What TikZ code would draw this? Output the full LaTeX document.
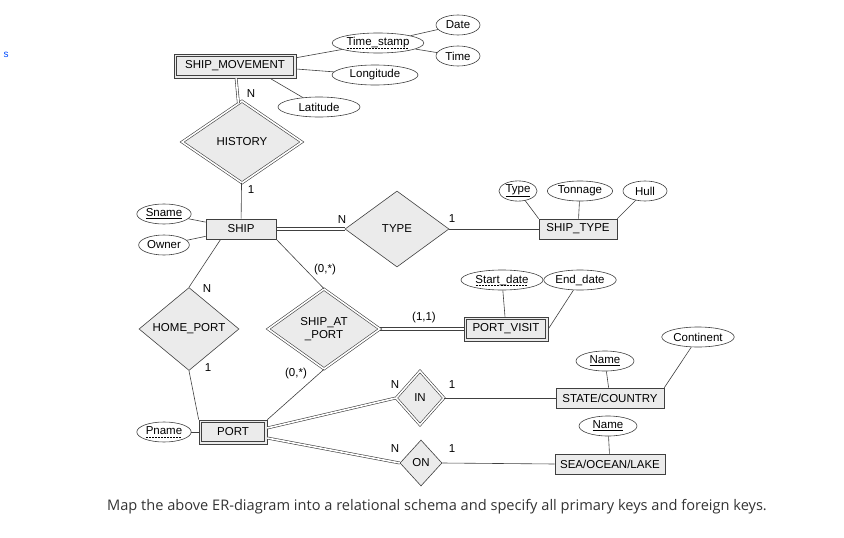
\documentclass[tikz,border=0pt]{standalone}
\usepackage{fontspec}
\setmainfont{Liberation Sans}
\newfontfamily\capfont{Open Sans}
\usetikzlibrary{shapes.geometric}
\newsavebox\dulbox
\newcommand\dul[1]{\sbox\dulbox{#1}\rlap{\usebox\dulbox}\raisebox{-2pt}{\hbox to \wd\dulbox{\xleaders\hbox{\rule{2pt}{0.4pt}\hspace{1pt}}\hfill}}}
\tikzset{
    normal/.style={draw=black!75, semithick},
    ent/.style={style=normal, fill=black!8, minimum height=20pt, inner sep=2pt, font=\fontsize{11.5}{13}\selectfont},
    went/.style={style=ent, minimum height=24pt, path picture={\draw[black!75, semithick] ([shift={(2.4pt,-2.4pt)}]path picture bounding box.north west) rectangle ([shift={(-2.4pt,2.4pt)}]path picture bounding box.south east);}},
    rel/.style={style=normal, diamond, fill=black!8, inner sep=0pt, font=\fontsize{11.5}{13}\selectfont, align=center},
    wrel/.style={style=rel, double, double distance=1.6pt},
    attr/.style={style=normal, ellipse, fill=white, minimum height=20pt, inner sep=1pt, font=\fontsize{11.5}{13}\selectfont},
    e/.style={style=normal},
    te/.style={draw=black!75, double, double distance=1.6pt, semithick}, % total participation
    card/.style={font=\fontsize{11.5}{13}\selectfont}
}
\begin{document}
\begin{tikzpicture}[x=1pt, y=-1pt]
        \useasboundingbox (0,0) rectangle (844,538);
        \node[text=blue!70!cyan] (stray) at (6,55) {s};

        % entities
        \node[went, minimum width=122pt] (ship_movement) at (235,66) {SHIP\_MOVEMENT};
        \node[ent, minimum width=70pt] (ship) at (241,229) {SHIP};
        \node[ent, minimum width=78pt] (ship_type) at (578,229) {SHIP\_TYPE};
        \node[went, minimum width=84pt] (port_visit) at (506,329) {PORT\_VISIT};
        \node[ent, minimum width=108pt] (state) at (610,398) {STATE/COUNTRY};
        \node[went, minimum width=68pt] (port) at (233,432) {PORT};
        \node[ent, minimum width=110pt] (sea) at (610,464) {SEA/OCEAN/LAKE};

        % relationships
        \node[wrel, minimum width=120pt, minimum height=82pt] (history) at (242,142) {HISTORY};
        \node[rel, minimum width=104pt, minimum height=76pt] (type) at (397,229) {TYPE};
        \node[rel, minimum width=100pt, minimum height=76pt] (home_port) at (189,329) {HOME\_PORT};
        \node[wrel, minimum width=112pt, minimum height=80pt] (ship_at_port) at (324,329) {SHIP\_AT\\\_PORT};
        \node[wrel, minimum width=48pt, minimum height=54pt] (in) at (420,398) {IN};
        \node[rel, minimum width=42pt, minimum height=46pt] (on) at (421,463) {ON};

        % attributes
        \node[attr, minimum width=88pt] (time_stamp) at (378,43) {\dul{Time\_stamp}};
        \node[attr, minimum width=44pt] (date) at (458,25) {Date};
        \node[attr, minimum width=44pt] (time) at (458,56) {Time};
        \node[attr, minimum width=86pt] (longitude) at (375,75) {Longitude};
        \node[attr, minimum width=82pt] (latitude) at (319,107) {Latitude};
        \node[attr, minimum width=50pt] (sname) at (164,214) {\underline{Sname}};
        \node[attr, minimum width=48pt] (owner) at (164,245) {Owner};
        \node[attr, minimum width=38pt] (type_a) at (518,191) {\underline{Type}};
        \node[attr, minimum width=54pt] (tonnage) at (580,191) {Tonnage};
        \node[attr, minimum width=44pt] (hull) at (645,191) {Hull};
        \node[attr, minimum width=82pt] (start_date) at (502,280) {\dul{Start\_date}};
        \node[attr, minimum width=62pt] (end_date) at (580,280) {End\_date};
        \node[attr, minimum width=60pt] (continent) at (698,337) {Continent};
        \node[attr, minimum width=58pt] (state_name) at (605,361) {\underline{Name}};
        \node[attr, minimum width=48pt] (pname) at (164,432) {\dul{Pname}};
        \node[attr, minimum width=58pt] (sea_name) at (608,426) {\underline{Name}};

        % attribute edges
        \draw[e] (ship_movement.north east) ++(0,4) -- (time_stamp);
        \draw[e] (time_stamp) -- (date);
        \draw[e] (time_stamp) -- (time);
        \draw[e] (ship_movement.east) ++(0,3) -- (longitude);
        \draw[e] (ship_movement.south) ++(35,0) -- (latitude);
        \draw[e] (sname) -- (ship);
        \draw[e] (owner) -- (ship);
        \draw[e] (type_a) -- (ship_type.north west);
        \draw[e] (tonnage) -- (ship_type);
        \draw[e] (hull) -- (ship_type.north east);
        \draw[e] (start_date) -- (port_visit);
        \draw[e] (end_date) -- (port_visit.east);
        \draw[e] (continent) -- (state.north east);
        \draw[e] (state_name) -- (state);
        \draw[e] (pname) -- (port);
        \draw[e] (sea_name) -- (sea);

        % relationship edges
        \draw[te] (ship_movement) -- (history);
        \draw[e] (history) -- (ship);
        \draw[e] ([yshift=-1.3pt]ship.east) -- ([yshift=-1.3pt]type.west);
        \draw[e] ([yshift=1.3pt]ship.east) -- ([yshift=1.3pt]type.west);
        \draw[e] (type.east) -- (ship_type.west);
        \draw[e] (ship.south west) ++(15,0) -- (home_port.north);
        \draw[e] (home_port.south) -- (port.north west);
        \draw[e] (ship.south east) -- (ship_at_port.north);
        \draw[e] (ship_at_port.south) -- (port.north east);
        \draw[e] ([yshift=-1.3pt]ship_at_port.east) -- ([yshift=-1.3pt]port_visit.west);
        \draw[e] ([yshift=1.3pt]ship_at_port.east) -- ([yshift=1.3pt]port_visit.west);
        \draw[te] (port.east) ++(0,-4) -- (in.west);
        \draw[e] (in.east) -- (state.west);
        \draw[te] (port.east) ++(0,6) -- (on.west);
        \draw[e] (on.east) -- (sea.west);

        % cardinalities
        \node[card] (c1) at (251,94) {N};
        \node[card] (c2) at (251,190) {1};
        \node[card] (c3) at (342,220) {N};
        \node[card] (c4) at (452,219) {1};
        \node[card] (c5) at (325,270) {(0,*)};
        \node[card] (c6) at (207,289) {N};
        \node[card] (c7) at (208,368) {1};
        \node[card] (c8) at (296,374) {(0,*)};
        \node[card] (c9) at (424,318) {(1,1)};
        \node[card] (c10) at (395,385) {N};
        \node[card] (c11) at (452,385) {1};
        \node[card] (c12) at (395,449) {N};
        \node[card] (c13) at (452,449) {1};

        \node[font=\capfont\fontsize{14.6}{17}\selectfont, text=black!80] (caption) at (437,507) {Map the above ER-diagram into a relational schema and specify all primary keys and foreign keys.};
      \end{tikzpicture}
\end{document}
